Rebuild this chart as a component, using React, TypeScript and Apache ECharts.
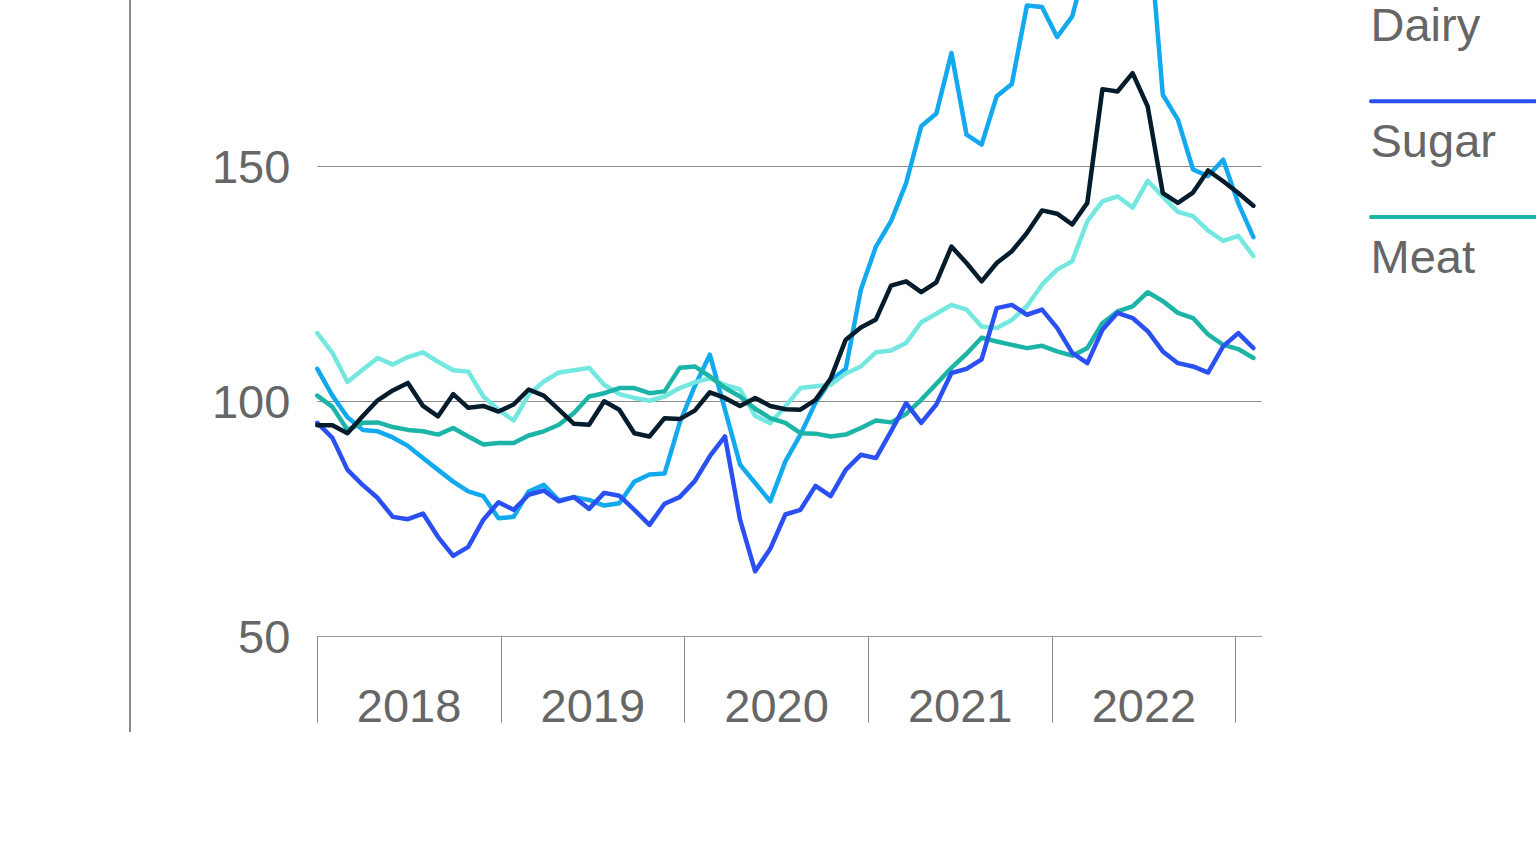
import React, { useEffect, useRef } from "react";
import * as echarts from "echarts";

// Month index 0 = Jan 2018 ... 62 = Mar 2023
const cereals = [
  95.0, 95.0, 93.3, 96.9, 100.3, 102.4, 104.0, 99.1, 96.9, 101.6, 98.7, 99.1,
  97.9, 99.4, 102.6, 101.3, 98.3, 95.3, 95.1, 100.1, 98.3, 93.3, 92.6, 96.5,
  96.3, 98.1, 102.0, 100.8, 99.1, 100.8, 99.1, 98.4, 98.3, 100.4, 104.9, 113.2,
  115.8, 117.5, 124.7, 125.6, 123.3, 125.4, 133.0, 129.5, 125.6, 129.5, 132.0, 135.9,
  140.7, 140.0, 137.7, 142.3, 166.5, 166.0, 169.9, 162.8, 144.4, 142.3, 144.5, 149.2,
  146.9, 144.4, 141.7,
];
const vegetableOils = [
  107.0, 101.3, 96.7, 94.0, 93.7, 92.4, 90.6, 88.0, 85.5, 83.0, 80.9, 79.9,
  75.2, 75.5, 80.9, 82.3, 79.0, 79.7, 79.1, 77.9, 78.4, 83.0, 84.5, 84.7,
  95.5, 103.3, 110.0, 98.3, 86.6, 82.7, 78.8, 87.3, 93.0, 99.8, 104.5, 107.0,
  123.8, 133.0, 138.4, 146.5, 158.6, 161.3, 174.2, 156.8, 154.7, 165.0, 167.6, 184.3,
  184.0, 177.6, 182.0, 194.0, 250.0, 237.0, 229.0, 204.0, 165.3, 160.0, 149.4, 148.0,
  151.5, 142.2, 135.0,
];
const dairy = [
  114.6, 110.4, 104.2, 106.8, 109.3, 107.9, 109.5, 110.5, 108.5, 106.7, 106.4, 101.1,
  98.3, 96.0, 101.5, 104.3, 106.2, 106.7, 107.2, 103.6, 101.6, 100.8, 100.2, 101.1,
  102.9, 104.1, 105.0, 103.6, 102.6, 97.0, 95.4, 99.0, 102.9, 103.3, 103.6, 106.0,
  107.5, 110.5, 110.9, 112.5, 116.9, 118.7, 120.6, 119.6, 116.0, 115.7, 117.4, 120.3,
  124.9, 128.1, 129.9, 138.4, 142.6, 143.7, 141.3, 147.0, 143.6, 140.4, 139.5, 136.4,
  134.2, 135.3, 131.0,
];
const sugar = [
  95.5, 92.3, 85.5, 82.3, 79.5, 75.5, 75.0, 76.2, 71.2, 67.2, 69.1, 74.9,
  78.6, 77.0, 80.2, 81.1, 78.8, 79.7, 77.2, 80.6, 80.0, 77.0, 73.8, 78.3,
  79.7, 83.1, 88.4, 92.6, 74.9, 63.9, 68.7, 76.0, 77.0, 82.1, 79.9, 85.5,
  88.7, 88.0, 93.7, 99.7, 95.5, 99.4, 106.1, 107.0, 109.0, 119.9, 120.6, 118.5,
  119.6, 115.7, 110.4, 108.2, 115.3, 118.9, 117.8, 115.0, 110.7, 108.2, 107.5, 106.2,
  111.8, 114.6, 111.4,
];
const meat = [
  101.3, 98.9, 94.0, 95.5, 95.6, 94.6, 94.0, 93.7, 93.0, 94.4, 92.6, 90.9,
  91.2, 91.2, 92.8, 93.7, 95.1, 97.6, 101.1, 101.8, 102.9, 102.9, 101.8, 102.2,
  107.2, 107.5, 105.4, 102.9, 101.1, 98.5, 96.5, 95.5, 93.3, 93.2, 92.6, 93.0,
  94.4, 96.0, 95.6, 97.4, 100.4, 103.8, 107.2, 110.2, 113.6, 112.8, 112.1, 111.4,
  111.9, 110.7, 109.8, 111.4, 116.7, 119.2, 120.3, 123.3, 121.4, 118.9, 117.8, 114.3,
  112.1, 111.2, 109.3,
];

const years = ["2018", "2019", "2020", "2021", "2022"];
// year boundaries expressed in month-index units of the plotted series
const yearStarts = [0, 12.17, 24.33, 36.5, 48.66, 60.83];
const yearMids = [6.08, 18.25, 30.42, 42.58, 54.75];
const yTickLabels = [50, 100, 150];

const legendNames = ["Dairy", "Sugar", "Meat"];

const FONT = "'Liberation Sans', Arial, Helvetica, sans-serif";
const TEXT = "#666666";
const OFFSET = 400;

const seriesDefs = [
  { name: "Vegetable oils", data: vegetableOils, color: "#12A9EE" },
  { name: "Dairy", data: dairy, color: "#74E8E0" },
  { name: "Meat", data: meat, color: "#1CB4A6" },
  { name: "Sugar", data: sugar, color: "#2A50F2" },
  { name: "Cereals", data: cereals, color: "#051C2C" },
];

export default function App() {
  const ref = useRef<HTMLDivElement>(null);
  useEffect(() => {
    document.body.style.margin = "0";
    const chart = echarts.init(ref.current!, undefined, { renderer: "svg" });
    const legendColors: Record<string, string> = {};
    seriesDefs.forEach((s) => (legendColors[s.name] = s.color));
    const legendGraphics: any[] = [];
    legendNames.forEach((n, i) => {
      const ly = OFFSET - 14.4 + i * 115.7;
      legendGraphics.push({
        type: "line",
        shape: { x1: 1371, y1: ly, x2: 1560, y2: ly },
        style: { stroke: legendColors[n], lineWidth: 4, lineCap: "round" },
        silent: true,
      });
      legendGraphics.push({
        type: "text",
        x: 1370.5,
        y: ly + 39,
        style: {
          text: n,
          fontSize: 47,
          lineHeight: 40,
          fontFamily: FONT,
          fill: TEXT,
          verticalAlign: "middle",
          align: "left",
        },
        silent: true,
      });
    });
    chart.setOption({
      animation: false,
      backgroundColor: "#ffffff",
      grid: { left: 317.3, right: 274.3, top: 96.7, bottom: 227.3, containLabel: false },
      xAxis: {
        type: "value",
        min: 0,
        max: 62.55,
        axisLine: { show: true, onZero: false, lineStyle: { color: "#9a9a9a", width: 1 } },
        axisTick: {
          show: true,
          customValues: yearStarts,
          length: 86,
          lineStyle: { color: "#8a8a8a", width: 1 },
        },
        axisLabel: {
          customValues: yearMids,
          formatter: (v: number) => {
            const i = yearMids.findIndex((m) => Math.abs(m - v) < 0.01);
            return i >= 0 ? years[i] : "";
          },
          margin: 45,
          fontSize: 47,
          fontFamily: FONT,
          color: TEXT,
        },
        splitLine: { show: false },
      },
      yAxis: {
        type: "value",
        min: 50,
        max: 250,
        interval: 50,
        axisLine: { show: false },
        axisTick: { show: false },
        axisLabel: {
          customValues: yTickLabels,
          margin: 27,
          fontSize: 47,
          fontFamily: FONT,
          color: TEXT,
        },
        splitLine: { show: true, lineStyle: { color: "#8a8a8a", width: 1 } },
      },
      series: seriesDefs.map((s) => ({
        type: "line",
        name: s.name,
        data: s.data.map((v, i) => [i, v]),
        showSymbol: false,
        symbol: "none",
        lineStyle: { color: s.color, width: 4.5, join: "round", cap: "round" },
        itemStyle: { color: s.color },
      })),
      graphic: [
        {
          type: "line",
          shape: { x1: 130, y1: 0, x2: 130, y2: OFFSET + 732 },
          style: { stroke: "#8a8a8a", lineWidth: 2 },
          silent: true,
        },
        ...legendGraphics,
      ],
    });
    return () => chart.dispose();
  }, []);
  return (
    <div
      style={{
        position: "fixed",
        left: 0,
        top: 0,
        width: 1536,
        height: 864,
        overflow: "hidden",
        background: "#ffffff",
      }}
    >
      <div
        ref={ref}
        style={{ position: "absolute", left: 0, top: -OFFSET, width: 1536, height: 864 + OFFSET }}
      />
    </div>
  );
}
